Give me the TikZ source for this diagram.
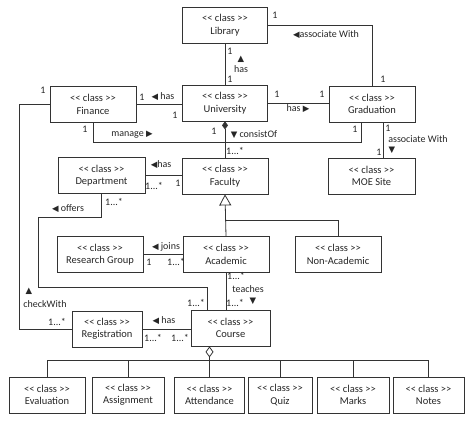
\documentclass[tikz,border=0pt]{standalone}
\usepackage{fontspec}
\setmainfont{Carlito}
\newfontfamily\symfont{DejaVu Sans}
\usetikzlibrary{arrows.meta}
\newcommand\clshead{<\kern0pt< class >\kern0pt>}
\newcommand\many{1...*}
\newcommand\tR{{\symfont\fontsize{8.5}{9}\selectfont ▶}}
\newcommand\tL{{\symfont\fontsize{8.5}{9}\selectfont ◀}}
\newcommand\tU{{\symfont\fontsize{8.5}{9}\selectfont ▲}}
\newcommand\tD{{\symfont\fontsize{8.5}{9}\selectfont ▼}}
\tikzset{
  cls/.style={draw=black!80,line width=0.8pt,minimum height=36,inner sep=1pt,align=center,
    text=black!85,font=\fontsize{10.5}{12.5}\selectfont},
  lbl/.style={inner sep=0pt,text=black!85,font=\fontsize{10}{11}\selectfont},
  conn/.style={draw=black!80,line width=0.8pt}
}
\begin{document}
\begin{tikzpicture}[x=1pt,y=-1pt]
\useasboundingbox (0,0) rectangle (474,434);
\node[cls,minimum width=85] (lib) at (225,25) {\clshead\\Library};
\node[cls,minimum width=85] (uni) at (225,103) {\clshead\\University};
\node[cls,minimum width=86] (fin) at (93,104.5) {\clshead\\Finance};
\node[cls,minimum width=86] (grad) at (372,104) {\clshead\\Graduation};
\node[cls,minimum width=87] (dep) at (101.5,175.5) {\clshead\\Department};
\node[cls,minimum width=86] (fac) at (225,176) {\clshead\\Faculty};
\node[cls,minimum width=87] (moe) at (371.5,176) {\clshead\\MOE Site};
\node[cls,minimum width=86] (res) at (100,254.5) {\clshead\\Research Group};
\node[cls,minimum width=86] (aca) at (226,254.5) {\clshead\\Academic};
\node[cls,minimum width=86] (non) at (338,254.5) {\clshead\\Non-Academic};
\node[cls,minimum width=70] (reg) at (107,329) {\clshead\\Registration};
\node[cls,minimum width=79] (crs) at (230.5,328) {\clshead\\Course};
\node[cls,minimum width=76] (eva) at (47,395) {\clshead\\Evaluation};
\node[cls,minimum width=72] (asg) at (128,395) {\clshead\\Assignment};
\node[cls,minimum width=70] (att) at (209.5,395) {\clshead\\Attendance};
\node[cls,minimum width=64] (qz) at (280,395) {\clshead\\Quiz};
\node[cls,minimum width=72] (mrk) at (353,395) {\clshead\\Marks};
\node[cls,minimum width=71] (nts) at (428.5,395) {\clshead\\Notes};

\draw[conn] (lib.south) -- (lib.south |- uni.north);
\draw[conn] (lib.east) -| (grad.north);
\draw[conn] (fin.east) -- (fin.east -| uni.west);
\draw[conn] (uni.east) -- (uni.east -| grad.west);
\draw[conn] (fin.south) -- ++(0,19) -| ([xshift=-11pt]grad.south);
\draw[conn] (fin.west) -- ++(-30,0) |- (reg.west);
\draw[conn,{Diamond[length=8pt,width=6pt]}-] (uni.south) -- (fac.north);
\draw[conn] ([xshift=11pt]grad.south) -- ([xshift=11pt]grad.south |- moe.north);
\draw[conn] (dep.east) -- (dep.east -| fac.west);
\draw[conn] (dep.south) -- ++(0,23) -- ++(-63,0) -- ++(0,70) -| ([xshift=-23pt]crs.north);
\draw[conn,-{Triangle[open,length=11pt,width=12pt]}] (aca.north) -- (fac.south);
\draw[conn] (non.north) |- ([yshift=-26pt]fac.south);
\draw[conn] (res.east) -- (res.east -| aca.west);
\draw[conn] (aca.south) -- (aca.south |- crs.north);
\draw[conn] (reg.east) -- (reg.east -| crs.west);
\draw[conn,{Diamond[open,length=11pt,width=8pt]}-] (crs.south -| att.north) -- (att.north);
\coordinate (bus) at ([yshift=16pt]att.north);
\foreach \b in {eva,asg,qz,mrk,nts}
  \draw[conn] (\b.north) |- (bus);

\foreach \p/\t [count=\i] in {{275,15}/1,{383,79}/1,{230,51}/1,{230,79}/1,{43,90}/1,
    {142,97}/1,{175,115}/1,{277,94}/1,{322,94}/1,{85,129}/1,{214,131}/1,{355,129}/1,
    {388,128}/1,{379,152}/1,{235,151}/\many,{154,186}/\many,{178,183}/1,{114,202}/\many,
    {149,262}/1,{176,262}/\many,{236,276}/\many,{235,303}/\many,{57,322}/\many,
    {196,303}/\many,{153,338}/\many,{180,338}/\many}
  \node[lbl] (m\i) at (\p) {\t};

\node[lbl] (r1) at (326,35) {\tL associate With};
\node[lbl,align=center] (r2) at (241,64) {\tU\\has};
\node[lbl] (r3) at (163,97) {\tL\ has};
\node[lbl] (r4) at (298,109) {has \tR};
\node[lbl] (r5) at (132,135) {manage \tR};
\node[lbl] (r6) at (254,135) {\tD\ consistOf};
\node[lbl] (r7) at (418,139) {associate With};
\node[lbl] (r7a) at (392,150) {\tD};
\node[lbl] (r8) at (161,165) {\tL has};
\node[lbl] (r9) at (68,209) {\tL\ offers};
\node[lbl] (r10) at (166,247) {\tL\ joins};
\node[lbl] (r11) at (248,289) {teaches};
\node[lbl] (r11a) at (253,301) {\tD};
\node[lbl] (r12) at (29,291) {\tU};
\node[lbl] (r12a) at (45,304) {checkWith};
\node[lbl] (r13) at (164,321) {\tL\ has};
\end{tikzpicture}
\end{document}
